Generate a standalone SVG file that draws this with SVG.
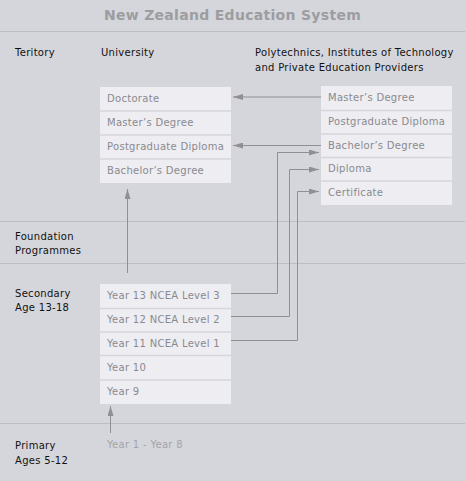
<svg xmlns="http://www.w3.org/2000/svg" width="465" height="481" viewBox="0 0 465 481">
<style>
.lbl{font-family:"DejaVu Sans","Liberation Sans",sans-serif;font-size:10px;fill:#111;letter-spacing:0.3px}
.item{font-family:"DejaVu Sans","Liberation Sans",sans-serif;font-size:10px;fill:#8a8a8f;letter-spacing:0.3px}
.title{font-family:"DejaVu Sans","Liberation Sans",sans-serif;font-size:14px;font-weight:bold;fill:#9c9da1;letter-spacing:0.3px}
.sep{stroke:#bdbec3;stroke-width:1}
.box{fill:#ededf2}
.div{stroke:#d5d6db;stroke-width:1.5}
.con{fill:none;stroke:#8f9094;stroke-width:1}
</style>
<defs>
<marker id="ah" viewBox="0 0 10 6" refX="10" refY="3" markerWidth="10" markerHeight="6" markerUnits="userSpaceOnUse" orient="auto">
<path d="M0,0 L10,3 L0,6 z" fill="#8f9094"/>
</marker>
</defs>
<rect x="0" y="0" width="465" height="481" fill="#d5d6db"/>
<text class="title" x="232.5" y="20" text-anchor="middle">New Zealand Education System</text>
<g id="separators">
<line class="sep" x1="0" y1="31.5" x2="465" y2="31.5"/>
<line class="sep" x1="0" y1="221.5" x2="465" y2="221.5"/>
<line class="sep" x1="0" y1="263.5" x2="465" y2="263.5"/>
<line class="sep" x1="0" y1="423.5" x2="465" y2="423.5"/>
</g>
<g id="labels">
<text class="lbl" x="15" y="56">Teritory</text>
<text class="lbl" x="101" y="56">University</text>
<text class="lbl" x="255" y="56">Polytechnics, Institutes of Technology</text>
<text class="lbl" x="255" y="71">and Private Education Providers</text>
<text class="lbl" x="15" y="240">Foundation</text>
<text class="lbl" x="15" y="254">Programmes</text>
<text class="lbl" x="15" y="297">Secondary</text>
<text class="lbl" x="15" y="311">Age 13-18</text>
<text class="lbl" x="15" y="449">Primary</text>
<text class="lbl" x="15" y="464">Ages 5-12</text>
</g>
<g id="university">
<rect class="box" x="100" y="87" width="131" height="96"/>
<line class="div" x1="100" y1="111" x2="231" y2="111"/>
<line class="div" x1="100" y1="135" x2="231" y2="135"/>
<line class="div" x1="100" y1="159" x2="231" y2="159"/>
<text class="item" x="107" y="102">Doctorate</text>
<text class="item" x="107" y="126">Master’s Degree</text>
<text class="item" x="107" y="150">Postgraduate Diploma</text>
<text class="item" x="107" y="174">Bachelor’s Degree</text>
</g>
<g id="polytechnics">
<rect class="box" x="321" y="86" width="131" height="119"/>
<line class="div" x1="321" y1="110.5" x2="452" y2="110.5"/>
<line class="div" x1="321" y1="134" x2="452" y2="134"/>
<line class="div" x1="321" y1="157.5" x2="452" y2="157.5"/>
<line class="div" x1="321" y1="181" x2="452" y2="181"/>
<text class="item" x="328" y="101">Master’s Degree</text>
<text class="item" x="328" y="125">Postgraduate Diploma</text>
<text class="item" x="328" y="149">Bachelor’s Degree</text>
<text class="item" x="328" y="172">Diploma</text>
<text class="item" x="328" y="196">Certificate</text>
</g>
<g id="secondary">
<rect class="box" x="100" y="284" width="131" height="120"/>
<line class="div" x1="100" y1="308.5" x2="231" y2="308.5"/>
<line class="div" x1="100" y1="332" x2="231" y2="332"/>
<line class="div" x1="100" y1="355.5" x2="231" y2="355.5"/>
<line class="div" x1="100" y1="380" x2="231" y2="380"/>
<text class="item" x="107" y="299">Year 13 NCEA Level 3</text>
<text class="item" x="107" y="323">Year 12 NCEA Level 2</text>
<text class="item" x="107" y="347">Year 11 NCEA Level 1</text>
<text class="item" x="107" y="371">Year 10</text>
<text class="item" x="107" y="395">Year 9</text>
</g>
<g id="primary">
<text class="item" x="107" y="448" style="fill:#a3a4a8">Year 1 - Year 8</text>
</g>
<g id="connectors">
<line class="con" x1="321" y1="97" x2="233" y2="97" marker-end="url(#ah)"/>
<line class="con" x1="321" y1="145.5" x2="233" y2="145.5" marker-end="url(#ah)"/>
<line class="con" x1="127.5" y1="273" x2="127.5" y2="189" marker-end="url(#ah)"/>
<line class="con" x1="110.5" y1="433" x2="110.5" y2="406" marker-end="url(#ah)"/>
<polyline class="con" points="231,293.5 277.5,293.5 277.5,152.5 319,152.5" marker-end="url(#ah)"/>
<polyline class="con" points="231,316.5 289.5,316.5 289.5,169.5 319,169.5" marker-end="url(#ah)"/>
<polyline class="con" points="231,340.5 297.5,340.5 297.5,191.5 319,191.5" marker-end="url(#ah)"/>
</g>
</svg>
